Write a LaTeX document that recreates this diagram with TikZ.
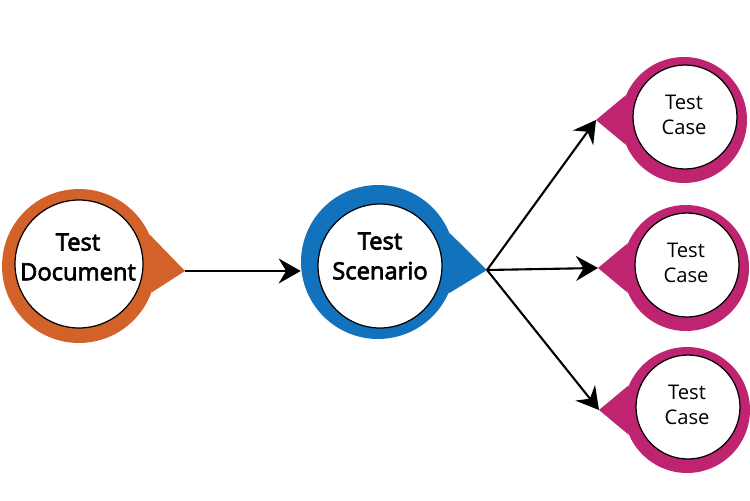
\documentclass[tikz,border=0pt]{standalone}
\usepackage{fontspec}
\setmainfont{Open Sans}
\newfontfamily\semibold[FakeBold=3]{Open Sans}
\usetikzlibrary{arrows.meta}
\definecolor{docorange}{RGB}{210,98,42}
\definecolor{scenblue}{RGB}{18,114,188}
\definecolor{casepink}{RGB}{190,36,112}

\begin{document}
\begin{tikzpicture}[x=0.02cm,y=-0.02cm,>={Stealth[length=0.44cm,width=0.5cm,inset=0.15cm]},
  ring/.style={circle,inner sep=0pt,minimum size=#1},
  face/.style={circle,draw=black,line width=0.7pt,fill=white,inner sep=0pt,minimum size=#1},
  bigtext/.style={align=center,font=\semibold\fontsize{13.5}{17}\selectfont},
  smalltext/.style={align=center,font=\fontsize{11.5}{14.2}\selectfont},
  link/.style={->,line width=1.2pt}]
\useasboundingbox (0,0) rectangle (750,500);
% test document
\node[ring=3.08cm,fill=docorange] (doc) at (79,266) {};
\coordinate (doctip) at (185,271);
\fill[docorange] (doctip) -- (doc.24) -- (doc.-20) -- cycle;
\node[face=2.56cm] (docface) at (79,264) {};
\node[bigtext] (doclabel) at (78,257) {Test\\Document};
% test scenario
\node[ring=3.08cm,fill=scenblue] (scen) at (378,262) {};
\coordinate (sctip) at (487,270);
\fill[scenblue] (sctip) -- (scen.22) -- (scen.-24) -- cycle;
\node[face=2.48cm] (scenface) at (380,266) {};
\node[bigtext] (scenlabel) at (380,256) {Test\\Scenario};
% test cases
\foreach \k/\x/\y in {1/684/120,2/686/268,3/687/410}{
  \node[ring=2.52cm,fill=casepink] (case\k) at (\x,\y) {};
  \coordinate (tip\k) at (\x-88,\y);
  \fill[casepink] (tip\k) -- (case\k.157) -- (case\k.203) -- cycle;
  \node[face=2.08cm] (face\k) at (\x+1,\y-3) {};
  \node[smalltext] (label\k) at (\x,\y-5) {Test\\Case};
}
\draw[link] (doctip) -- (doctip -| scen.west);
\foreach \k in {1,2,3}
  \draw[link] (sctip) -- (tip\k);
\end{tikzpicture}
\end{document}
